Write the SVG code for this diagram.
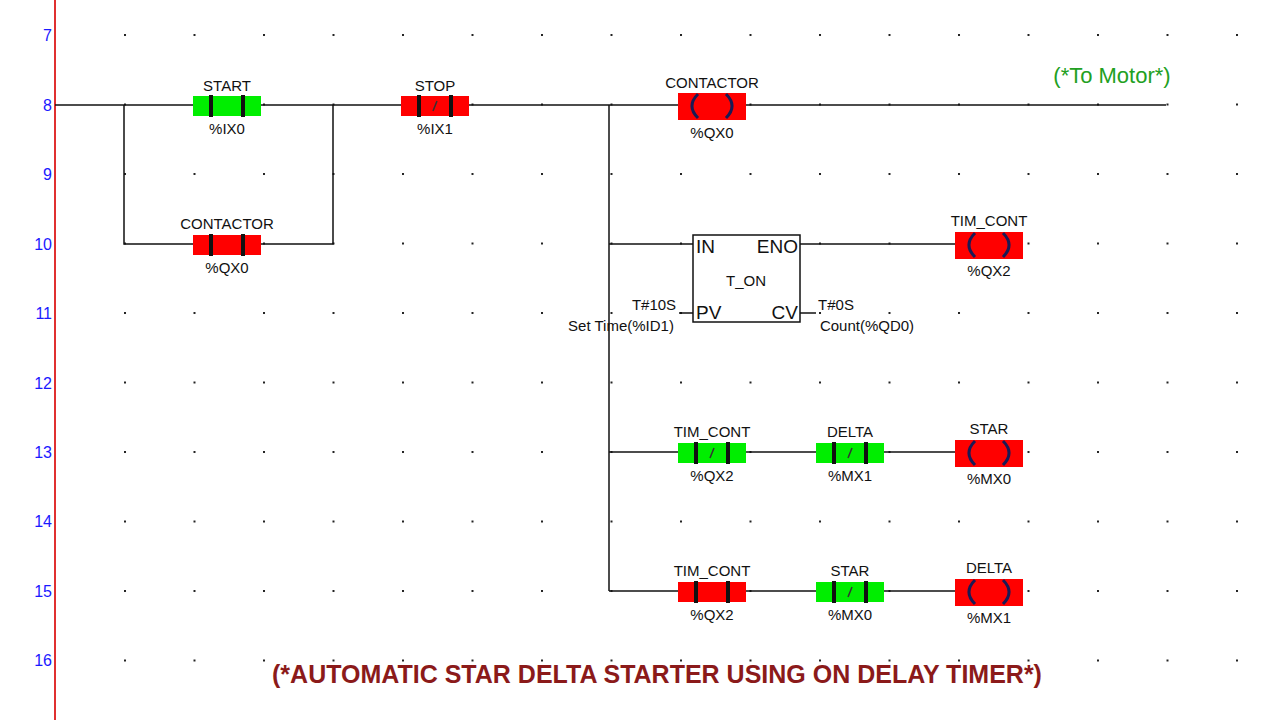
<svg xmlns="http://www.w3.org/2000/svg" width="1280" height="720" viewBox="0 0 1280 720">
<style>
.t{font-family:"Liberation Sans",Arial,sans-serif;font-size:15px;fill:#111;text-anchor:middle}
.n{font-family:"Liberation Sans",Arial,sans-serif;font-size:16px;fill:#1a1aff;text-anchor:end}
.w{stroke:#111;stroke-width:1.5;fill:none}
.g{fill:#00ee00}.r{fill:#ff0000}
.bar{stroke:#111;stroke-width:4}
.par{stroke:#1a1a55;stroke-width:3;fill:none}
.bt{font-family:"Liberation Sans",Arial,sans-serif;font-size:19px;fill:#111}
</style>
<defs>
<pattern id="dots" x="124" y="34" width="69.5" height="69.5" patternUnits="userSpaceOnUse"><rect x="0" y="0" width="2" height="2" fill="#222"/></pattern>
<g id="contact"><rect x="-34" y="-10" width="68" height="20"/><line class="bar" x1="-16" y1="-11" x2="-16" y2="11"/><line class="bar" x1="16" y1="-11" x2="16" y2="11"/></g>
<g id="ncontact"><use href="#contact"/><line x1="2" y1="-5" x2="-2" y2="5" stroke="#333" stroke-width="1.5"/></g>
<g id="coil"><rect x="-34" y="-13" width="68" height="27"/><path class="par" d="M-14,-12 Q-26,0 -14,12 M14,-12 Q26,0 14,12"/></g>
</defs>
<rect width="1280" height="720" fill="#fff"/>
<rect x="60" y="0" width="1220" height="720" fill="url(#dots)"/>
<line x1="55" y1="0" x2="55" y2="720" stroke="#e03030" stroke-width="2"/>
<g id="rownums">
<text class="n" x="52" y="41">7</text><text class="n" x="52" y="111">8</text><text class="n" x="52" y="180">9</text>
<text class="n" x="52" y="250">10</text><text class="n" x="52" y="319">11</text><text class="n" x="52" y="389">12</text>
<text class="n" x="52" y="458">13</text><text class="n" x="52" y="527">14</text><text class="n" x="52" y="597">15</text><text class="n" x="52" y="666">16</text>
</g>
<g id="connectors" class="w">
<line x1="55" y1="105" x2="1166" y2="105"/>
<polyline points="124,105 124,244 333,244 333,105"/>
<line x1="609" y1="105" x2="609" y2="591"/>
<line x1="609" y1="244" x2="693" y2="244"/>
<line x1="800" y1="244" x2="990" y2="244"/>
<line x1="679" y1="313" x2="693" y2="313"/>
<line x1="800" y1="313" x2="816" y2="313"/>
<line x1="609" y1="452" x2="990" y2="452"/>
<line x1="609" y1="591" x2="990" y2="591"/>
</g>
<g id="start"><use href="#contact" class="g" x="227" y="106"/><text class="t" x="227" y="91">START</text><text class="t" x="227" y="134">%IX0</text></g>
<g id="contactor_hold"><use href="#contact" class="r" x="227" y="245"/><text class="t" x="227" y="229">CONTACTOR</text><text class="t" x="227" y="273">%QX0</text></g>
<g id="stop"><use href="#ncontact" class="r" x="435" y="106"/><text class="t" x="435" y="91">STOP</text><text class="t" x="435" y="134">%IX1</text></g>
<g id="contactor_coil"><use href="#coil" class="r" x="712" y="106"/><text class="t" x="712" y="88">CONTACTOR</text><text class="t" x="712" y="138">%QX0</text></g>
<text x="1112" y="83" font-family="Liberation Sans,Arial,sans-serif" font-size="22" fill="#22a022" text-anchor="middle">(*To Motor*)</text>
<g id="timer">
<rect x="693" y="235" width="107" height="87" fill="#fff" stroke="#111" stroke-width="1.5"/>
<text class="bt" x="696" y="253">IN</text><text class="bt" x="798" y="253" text-anchor="end">ENO</text>
<text class="bt" x="696" y="319">PV</text><text class="bt" x="798" y="319" text-anchor="end">CV</text>
<text class="t" x="746" y="286">T_ON</text>
<text class="t" x="654" y="310">T#10S</text><text class="t" x="621" y="331">Set Time(%ID1)</text>
<text class="t" x="836" y="310">T#0S</text><text class="t" x="867" y="331">Count(%QD0)</text>
</g>
<g id="tim_cont_coil"><use href="#coil" class="r" x="989" y="245"/><text class="t" x="989" y="226">TIM_CONT</text><text class="t" x="989" y="276">%QX2</text></g>
<g id="tc1"><use href="#ncontact" class="g" x="712" y="453"/><text class="t" x="712" y="437">TIM_CONT</text><text class="t" x="712" y="481">%QX2</text></g>
<g id="delta_c"><use href="#ncontact" class="g" x="850" y="453"/><text class="t" x="850" y="437">DELTA</text><text class="t" x="850" y="481">%MX1</text></g>
<g id="star_coil"><use href="#coil" class="r" x="989" y="453"/><text class="t" x="989" y="434">STAR</text><text class="t" x="989" y="484">%MX0</text></g>
<g id="tc2"><use href="#contact" class="r" x="712" y="592"/><text class="t" x="712" y="576">TIM_CONT</text><text class="t" x="712" y="620">%QX2</text></g>
<g id="star_c"><use href="#ncontact" class="g" x="850" y="592"/><text class="t" x="850" y="576">STAR</text><text class="t" x="850" y="620">%MX0</text></g>
<g id="delta_coil"><use href="#coil" class="r" x="989" y="592"/><text class="t" x="989" y="573">DELTA</text><text class="t" x="989" y="623">%MX1</text></g>
<text x="657" y="683" font-family="Liberation Sans,Arial,sans-serif" font-size="25" font-weight="bold" fill="#8b1a1a" text-anchor="middle">(*AUTOMATIC STAR DELTA STARTER USING ON DELAY TIMER*)</text>
</svg>
